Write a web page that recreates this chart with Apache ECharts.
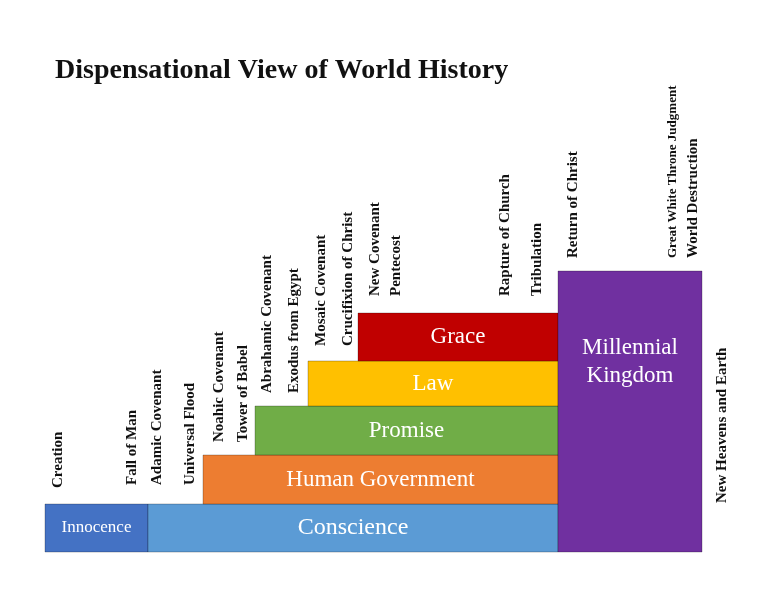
<!DOCTYPE html>
<html><head><meta charset="utf-8">
<script src="https://cdn.jsdelivr.net/npm/echarts@6/dist/echarts.min.js"></script>
<style>html,body{margin:0;padding:0;background:#fff}#c{width:768px;height:594px}</style>
</head><body><div id="c"></div>
<script>
// Timeline units (horizontal) and level units (vertical, from baseline)
const eraNames = ['Innocence','Conscience','Human Government','Promise','Law','Grace','Millennial\nKingdom'];
const eraStart = [45,148,203,255,308,358,558];
const eraEnd   = [148,558,558,558,558,558,702];
const eraBottom= [42,42,90,139,188,233,42];
const eraTop   = [90,90,139,188,233,281,323];
const eraColors= ['#4472C4','#5B9BD5','#ED7D31','#70AD47','#FFC000','#C00000','#7030A0'];
const eraFont  = [17,24,23,23,23,23,23];

const eventNames = ['Creation','Fall of Man','Adamic Covenant','Universal Flood','Noahic Covenant','Tower of Babel','Abrahamic Covenant','Exodus from Egypt','Mosaic Covenant','Crucifixion of Christ','New Covenant','Pentecost','Rapture of Church','Tribulation','Return of Christ','Great White Throne Judgment','World Destruction','New Heavens and Earth'];
const eventX = [58,132,157,190,219,243,267,294,321,348,375,396,505,537,573,673,693,722];
const eventY = [106,109,109,109,152,152,201,201,248,248,298,298,298,298,336,336,336,91];
const eventSize = [15,15,15,15,15,15,15,15,15,15,15,15,15,15,15,13,15,15];

const chart = echarts.init(document.getElementById('c'));
chart.setOption({
  animation:false,
  title:{text:'Dispensational View of World History',left:50,top:52,
    textStyle:{fontFamily:'Liberation Serif',fontWeight:'bold',fontSize:28,color:'#111'}},
  grid:{left:0,right:0,top:0,bottom:0},
  xAxis:{type:'value',min:0,max:768,show:false},
  yAxis:{type:'value',min:0,max:594,show:false},
  series:[{
    type:'custom',
    data:eraNames.map((n,i)=>[eraStart[i],eraEnd[i],eraBottom[i],eraTop[i],i]),
    renderItem:(params,api)=>{
      const i=api.value(4);
      const p0=api.coord([api.value(0),api.value(3)]);
      const p1=api.coord([api.value(1),api.value(2)]);
      return {type:'group',children:[
        {type:'rect',shape:{x:p0[0],y:p0[1],width:p1[0]-p0[0],height:p1[1]-p0[1]},
         style:{fill:eraColors[i],stroke:'rgba(0,0,0,0.25)',lineWidth:1}},
        {type:'text',x:(p0[0]+p1[0])/2,y:i===6?(p0[1]+p1[1])/2-50:(p0[1]+p1[1])/2,
         style:{text:eraNames[i],fill:'#fff',fontFamily:'Liberation Serif',fontSize:eraFont[i],
           align:'center',verticalAlign:'middle',lineHeight:28}}
      ]};
    }
  },{
    type:'custom',
    data:eventNames.map((n,i)=>[eventX[i],eventY[i],i]),
    renderItem:(params,api)=>{
      const i=api.value(2);
      const p=api.coord([api.value(0),api.value(1)]);
      return {type:'text',x:p[0],y:p[1],rotation:Math.PI/2,
        style:{text:eventNames[i],fill:'#111',fontFamily:'Liberation Serif',fontWeight:'bold',
          fontSize:eventSize[i],align:'left',verticalAlign:'middle'}};
    }
  }]
});
</script></body></html>
